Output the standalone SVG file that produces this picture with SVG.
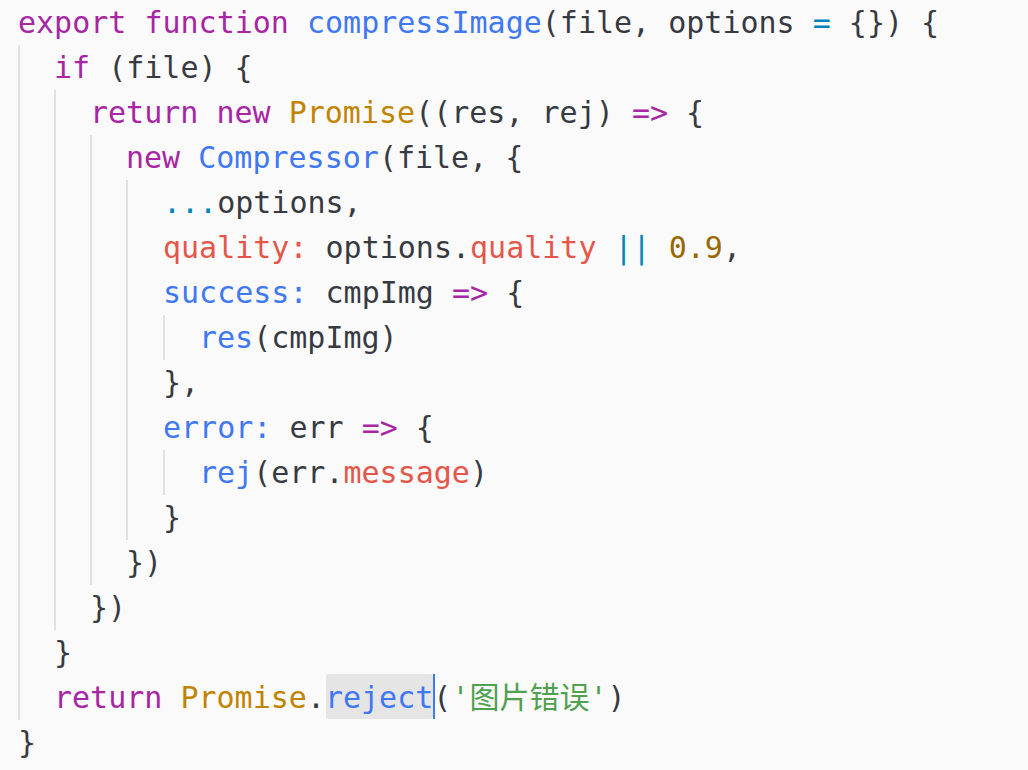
<svg xmlns="http://www.w3.org/2000/svg" width="1028" height="770" viewBox="0 0 1028 770">
<style>
text{font-family:"DejaVu Sans Mono","Liberation Mono","Noto Sans CJK SC",monospace;font-size:30px;fill:#383a42;white-space:pre}
.k{fill:#a626a4}.f{fill:#4078f2}.c{fill:#c18401}.r{fill:#e45649}.o{fill:#0184bc}.n{fill:#986801}.s{fill:#50a14f}
.g{stroke:#d8d8d8;stroke-width:1.5}
</style>
<rect width="1028" height="770" fill="#fafafa"/>
<g id="guides">
<line class="g" x1="19" y1="45" x2="19" y2="720"/>
<line class="g" x1="55" y1="90" x2="55" y2="630"/>
<line class="g" x1="91" y1="135" x2="91" y2="585"/>
<line class="g" x1="127" y1="180" x2="127" y2="540"/>
<line class="g" x1="164" y1="315" x2="164" y2="360"/>
<line class="g" x1="164" y1="450" x2="164" y2="495"/>
</g>
<rect x="326" y="674" width="107" height="45" rx="3" fill="#e5e5e6"/>
<g id="code" xml:space="preserve">
<text x="18" y="33"><tspan class="k">export function</tspan> <tspan class="f">compressImage</tspan>(file, options <tspan class="o">=</tspan> {}) {</text>
<text x="54" y="78"><tspan class="k">if</tspan> (file) {</text>
<text x="90" y="123"><tspan class="k">return new</tspan> <tspan class="c">Promise</tspan>((res, rej) <tspan class="k">=&gt;</tspan> {</text>
<text x="126" y="168"><tspan class="k">new</tspan> <tspan class="f">Compressor</tspan>(file, {</text>
<text x="163" y="213"><tspan class="o">...</tspan>options,</text>
<text x="163" y="258"><tspan class="r">quality:</tspan> options.<tspan class="r">quality</tspan> <tspan class="o">||</tspan> <tspan class="n">0.9</tspan>,</text>
<text x="163" y="303"><tspan class="f">success:</tspan> cmpImg <tspan class="k">=&gt;</tspan> {</text>
<text x="199" y="348"><tspan class="f">res</tspan>(cmpImg)</text>
<text x="163" y="393">},</text>
<text x="163" y="438"><tspan class="f">error:</tspan> err <tspan class="k">=&gt;</tspan> {</text>
<text x="199" y="483"><tspan class="f">rej</tspan>(err.<tspan class="r">message</tspan>)</text>
<text x="163" y="528">}</text>
<text x="126" y="573">})</text>
<text x="90" y="618">})</text>
<text x="54" y="663">}</text>
<text x="54" y="708"><tspan class="k">return</tspan> <tspan class="c">Promise</tspan>.<tspan class="f">reject</tspan>(<tspan class="s">'图片错误'</tspan>)</text>
<text x="18" y="753">}</text>
</g>
<line x1="434" y1="674" x2="434" y2="719" stroke="#4078f2" stroke-width="2"/>
</svg>
